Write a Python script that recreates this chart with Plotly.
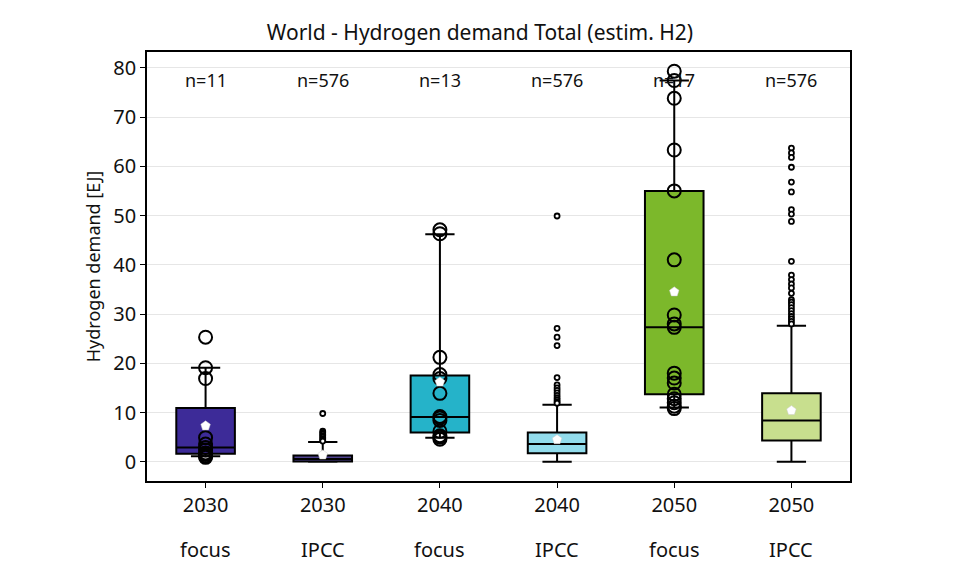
import plotly.graph_objects as go

# ---- data ----
years = ["2030", "2030", "2040", "2040", "2050", "2050"]
groups = ["focus", "IPCC", "focus", "IPCC", "focus", "IPCC"]
n_counts = [11, 576, 13, 576, 17, 576]

q1 = [1.65, 0.05, 5.95, 1.75, 13.7, 4.3]
median = [2.9, 0.55, 9.1, 3.6, 27.3, 8.4]
q3 = [10.9, 1.3, 17.5, 5.95, 55.0, 13.9]
lowerfence = [1.1, 0.0, 4.9, 0.0, 11.0, 0.0]
upperfence = [19.1, 4.0, 46.2, 11.6, 77.4, 27.6]
means = [7.3, 1.4, 16.2, 4.5, 34.5, 10.4]

focus_2030 = [0.9, 1.2, 1.5, 1.8, 2.4, 2.9, 3.6, 4.9, 16.9, 19.1, 25.3]
focus_2040 = [4.6, 5.0, 5.3, 6.2, 8.4, 8.9, 9.2, 13.9, 16.9, 17.7, 21.2, 46.3, 47.1]
focus_2050 = [10.8, 11.3, 12.0, 12.8, 13.7, 16.0, 17.0, 18.0, 27.3, 28.0, 29.8,
              41.0, 55.0, 63.3, 73.8, 77.4, 79.3]

ipcc_out_2030 = [9.8, 6.2, 5.9, 5.6, 5.3, 5.0, 4.7, 4.4, 4.2]
ipcc_out_2040 = [49.9, 27.1, 25.3, 23.6, 17.1, 15.6, 15.0, 14.5, 14.0, 13.5,
                 13.0, 12.6, 12.2, 11.9]
ipcc_out_2050 = [63.7, 62.7, 61.8, 59.8, 56.8, 54.8, 51.2, 50.3, 48.8, 40.7,
                 37.9, 37.0, 36.1, 35.3, 34.2, 32.9, 32.4, 31.9, 31.3, 30.7,
                 30.1, 29.5, 29.0, 28.5, 28.0]

colors = ["#3d2b98", "#4f4390", "#25b3c9", "#92dcec", "#7cb82b", "#c8df8e"]

focus_points = {0: focus_2030, 2: focus_2040, 4: focus_2050}
ipcc_points = {1: ipcc_out_2030, 3: ipcc_out_2040, 5: ipcc_out_2050}

FONT = "Noto Sans"
TXT = "#111111"

M_T, M_B = 52, 91
H = 572
PLOT_H = H - M_T - M_B

fig = go.Figure()

for i in range(6):
    fig.add_trace(go.Box(
        x=[i], q1=[q1[i]], median=[median[i]], q3=[q3[i]],
        lowerfence=[lowerfence[i]], upperfence=[upperfence[i]],
        fillcolor=colors[i], line=dict(color="black", width=2),
        width=0.5, whiskerwidth=0.5, boxpoints=False, showlegend=False,
        hoverinfo="skip",
    ))

for i, pts in ipcc_points.items():
    fig.add_trace(go.Scatter(
        x=[i] * len(pts), y=pts, mode="markers", showlegend=False,
        marker=dict(symbol="circle", size=5, color="white",
                    line=dict(color="black", width=1.8)),
    ))

for i, pts in focus_points.items():
    fig.add_trace(go.Scatter(
        x=[i] * len(pts), y=pts, mode="markers", showlegend=False,
        marker=dict(symbol="circle-open", size=13, color="black",
                    line=dict(color="black", width=2)),
    ))

fig.add_trace(go.Scatter(
    x=list(range(6)), y=means, mode="markers", showlegend=False,
    marker=dict(symbol="pentagon", size=10, color="white",
                line=dict(color="#cccccc", width=0.5)),
))

group_label_y = -(549 - (H - M_B)) / PLOT_H

for i in range(6):
    fig.add_annotation(x=i, y=77.6, text=f"n={n_counts[i]}", showarrow=False,
                       font=dict(family=FONT, size=18, color=TXT))
    fig.add_annotation(x=i, xref="x", y=group_label_y, yref="paper",
                       text=groups[i], showarrow=False, yanchor="middle",
                       font=dict(family=FONT, size=20, color=TXT))

fig.update_layout(
    width=960, height=H,
    margin=dict(l=147, r=110, t=M_T, b=M_B),
    paper_bgcolor="white", plot_bgcolor="white",
    title=dict(text="World - Hydrogen demand Total (estim. H2)",
               x=0.5, xanchor="center", y=1 - 33 / H, yanchor="middle",
               font=dict(family=FONT, size=21, color=TXT)),
    font=dict(family=FONT, size=20, color=TXT),
    xaxis=dict(range=[-0.5, 5.5], tickmode="array", tickvals=list(range(6)),
               ticktext=years,
               showline=True, linecolor="black", linewidth=1.5, mirror=True,
               ticks="outside", ticklen=5, tickcolor="black",
               showgrid=False, zeroline=False),
    yaxis=dict(range=[-3.9, 83.2], tickmode="array",
               tickvals=[0, 10, 20, 30, 40, 50, 60, 70, 80],
               showline=True, linecolor="black", linewidth=1.5, mirror=True,
               ticks="outside", ticklen=5, tickcolor="black",
               showgrid=True, gridcolor="#e6e6e6", gridwidth=1, zeroline=False,
               title=dict(text="Hydrogen demand [EJ]", standoff=8,
                          font=dict(family=FONT, size=18))),
)

fig.write_html("out.html")
